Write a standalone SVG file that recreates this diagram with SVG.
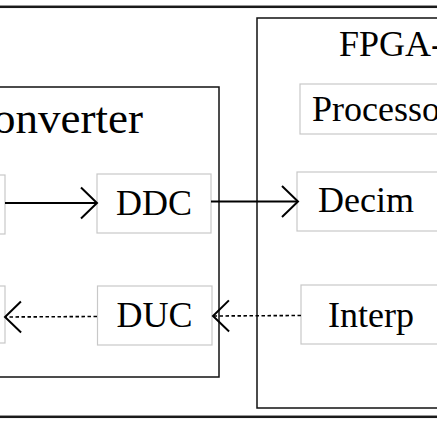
<svg xmlns="http://www.w3.org/2000/svg" width="437" height="437" viewBox="0 0 437 437">
  <style>
    .frame { fill: none; stroke: #1a1a1a; stroke-width: 2.5; }
    .group { fill: none; stroke: #111; stroke-width: 1.5; }
    .blk { fill: #ffffff; stroke: #c8c8c8; stroke-width: 1.2; }
    .t { font-family: "Liberation Serif", "Times New Roman", serif; fill: #000; }
    .lbl { font-size: 36px; }
    .solid { stroke: #000; stroke-width: 2; fill: none; }
    .dash { stroke: #000; stroke-width: 1.6; fill: none; stroke-dasharray: 3.5 2.5; }
  </style>
  <defs>
    <marker id="chev" viewBox="0 0 20 34" refX="18" refY="17" markerWidth="20" markerHeight="34" markerUnits="userSpaceOnUse" orient="auto">
      <path d="M2,1.5 L18,17 L2,32.5" fill="none" stroke="#000" stroke-width="2"/>
    </marker>
  </defs>
  <rect width="437" height="437" fill="#fff"/>

  <g id="outer-frame">
    <rect class="frame" x="-10" y="6.8" width="460" height="410"/>
  </g>

  <g id="converter">
    <rect class="group" x="-10" y="87" width="229" height="290"/>
    <text class="t" x="-37" y="133" font-size="45">Converter</text>
  </g>

  <g id="fpga">
    <rect class="group" x="257" y="18" width="220" height="390"/>
    <text class="t lbl" x="339" y="56">FPGA-</text>
  </g>

  <g id="processor">
    <rect class="blk" x="300" y="84" width="160" height="50"/>
    <text class="t lbl" x="312" y="121">Processor</text>
  </g>

  <g id="left-top">
    <rect class="blk" x="-50" y="175" width="55" height="59"/>
  </g>
  <g id="left-bottom">
    <rect class="blk" x="-50" y="286" width="55" height="57"/>
  </g>

  <g id="ddc">
    <rect class="blk" x="97" y="174" width="114" height="59"/>
    <text class="t lbl" x="154" y="215" text-anchor="middle">DDC</text>
  </g>

  <g id="duc">
    <rect class="blk" x="97.5" y="286" width="114.5" height="59"/>
    <text class="t lbl" x="154.5" y="327" text-anchor="middle">DUC</text>
  </g>

  <g id="decim">
    <rect class="blk" x="297" y="172" width="160" height="59"/>
    <text class="t lbl" x="318" y="212">Decim</text>
  </g>

  <g id="interp">
    <rect class="blk" x="301" y="285" width="160" height="59"/>
    <text class="t lbl" x="328" y="327">Interp</text>
  </g>

  <g id="connectors">
    <line class="solid" x1="5" y1="203" x2="97" y2="203" marker-end="url(#chev)"/>
    <line class="solid" x1="211" y1="201.5" x2="298" y2="201.5" marker-end="url(#chev)"/>
    <line class="dash" x1="301" y1="315.5" x2="213" y2="316" marker-end="url(#chev)"/>
    <line class="dash" x1="97" y1="316.5" x2="5" y2="317" marker-end="url(#chev)"/>
  </g>
</svg>
